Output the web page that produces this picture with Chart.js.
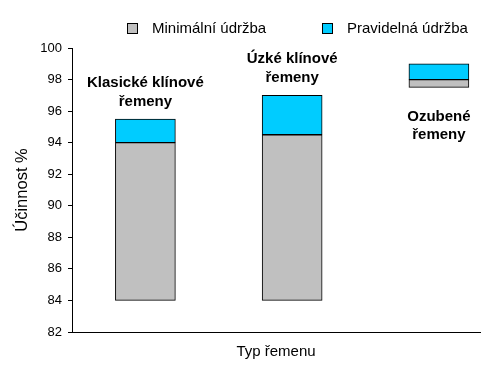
<!DOCTYPE html>
<html>
<head>
<meta charset="utf-8">
<script src="https://cdn.jsdelivr.net/npm/chart.js@4.4.1/dist/chart.umd.min.js"></script>
<style>
    html, body { margin: 0; padding: 0; background: #fff; }
    #wrap { width: 501px; height: 369px; }
</style>
</head>
<body>
<div id="wrap"><canvas id="beltChart"></canvas></div>
<script>
// data
var beltPos = [1, 2, 3];
var beltNames = [['Klasické klínové', 'řemeny'], ['Úzké klínové', 'řemeny'], ['Ozubené', 'řemeny']];
var nameSide = ['above', 'above', 'below'];
var minimalFrom = [84, 84, 97.5];
var minimalTo = [94, 94.5, 98];
var regularTo = [95.5, 97, 99];
var seriesNames = ['Minimální údržba', 'Pravidelná údržba'];

var FONT = '"Liberation Sans", Arial, sans-serif';
Chart.defaults.font.family = FONT;
Chart.defaults.color = '#000';

// floating bars, cyan part sits on top of the grey part
var minimalData = beltPos.map((x, i) => ({ x: x, y: [minimalFrom[i], minimalTo[i]] }));
var regularData = beltPos.map((x, i) => ({ x: x, y: [minimalTo[i], regularTo[i]] }));

// bold belt names above / below the bars
var namesPlugin = {
    id: 'beltNames',
    afterDatasetsDraw(chart) {
        const ctx = chart.ctx;
        const low = chart.getDatasetMeta(0).data;
        const high = chart.getDatasetMeta(1).data;
        ctx.save();
        ctx.font = 'bold 15px ' + FONT;
        ctx.fillStyle = '#000';
        ctx.textAlign = 'center';
        ctx.textBaseline = 'middle';
        beltNames.forEach((lines, i) => {
            const x = high[i].x;
            if (nameSide[i] === 'above') {
                const top = Math.min(high[i].y, high[i].base);
                lines.forEach((t, j) => ctx.fillText(t, x, top - 17 - (lines.length - 1 - j) * 19));
            } else {
                const bottom = Math.max(low[i].y, low[i].base);
                lines.forEach((t, j) => ctx.fillText(t, x, bottom + 29 + j * 18));
            }
        });
        ctx.restore();
    }
};

// legend drawn by hand, Excel style: small square + text, spaced wide apart
var legendPlugin = {
    id: 'excelLegend',
    afterDraw(chart) {
        const ctx = chart.ctx;
        const starts = [127, 322];
        ctx.save();
        ctx.font = '15px ' + FONT;
        ctx.textBaseline = 'middle';
        ctx.textAlign = 'left';
        chart.data.datasets.forEach((ds, i) => {
            const x = starts[i];
            ctx.fillStyle = ds.backgroundColor;
            ctx.fillRect(x, 23, 10, 10);
            ctx.strokeStyle = '#000';
            ctx.lineWidth = 1;
            ctx.strokeRect(x + 0.5, 23.5, 10, 10);
            ctx.fillStyle = '#000';
            ctx.fillText(ds.label, x + 25, 28.5);
        });
        ctx.restore();
    }
};

var ctx = document.getElementById('beltChart').getContext('2d');
var beltChart = new Chart(ctx, {
    type: 'bar',
    data: {
        datasets: [{
            label: seriesNames[0],
            data: minimalData,
            backgroundColor: '#C0C0C0',
            borderColor: '#000',
            borderWidth: 1,
            borderSkipped: false,
            barThickness: 60,
            grouped: false
        }, {
            label: seriesNames[1],
            data: regularData,
            backgroundColor: '#00CCFF',
            borderColor: '#000',
            borderWidth: 1,
            borderSkipped: false,
            barThickness: 60,
            grouped: false
        }]
    },
    options: {
        responsive: true,
        maintainAspectRatio: false,
        animation: false,
        layout: { padding: { left: 0, right: 21, top: 48, bottom: 0 } },
        plugins: {
            legend: { display: false },
            tooltip: { enabled: false }
        },
        scales: {
            x: {
                type: 'linear',
                offset: false,
                min: 0.5,
                max: 3.28,
                grid: { display: false },
                border: { color: '#000', width: 1 },
                ticks: { display: false },
                title: {
                    display: true,
                    text: 'Typ řemenu',
                    font: { size: 15 },
                    padding: { top: 0, bottom: 8 }
                },
                afterFit(scale) { scale.height = 37; }
            },
            y: {
                min: 82,
                max: 100,
                grid: { drawOnChartArea: false, drawTicks: true, tickLength: 4, color: '#000' },
                border: { color: '#000', width: 1 },
                ticks: { stepSize: 2, padding: 6, font: { size: 13 } },
                title: {
                    display: true,
                    text: 'Účinnost %',
                    font: { size: 16.5 },
                    padding: { top: 13, bottom: 0 }
                },
                afterFit(scale) { scale.width = 72; }
            }
        }
    },
    plugins: [namesPlugin, legendPlugin]
});
</script>
</body>
</html>
